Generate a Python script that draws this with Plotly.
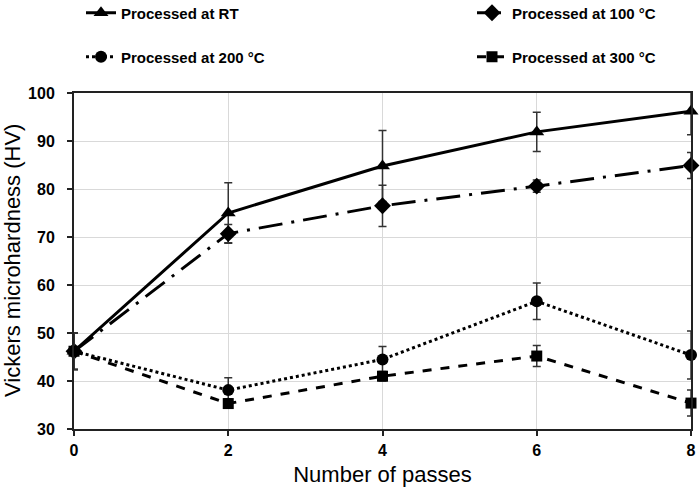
import plotly.graph_objects as go

passes = [0, 2, 4, 6, 8]

rt = [46.2, 75.0, 84.8, 91.9, 96.2]
rt_err = [3.8, 6.3, 7.4, 4.1, 4.9]

t100 = [46.2, 70.7, 76.5, 80.6, 84.9]
t100_err = [3.8, 1.9, 4.3, 1.3, 2.7]

t200 = [46.2, 38.1, 44.5, 56.6, 45.4]
t200_err = [3.8, 2.6, 2.7, 3.8, 5.0]

t300 = [46.2, 35.3, 41.0, 45.2, 35.4]
t300_err = [3.8, 1.0, 1.0, 2.2, 2.7]

names = ["Processed at RT", "Processed at 100 °C",
         "Processed at 200 °C", "Processed at 300 °C"]

FONT = "Liberation Sans, Arial, sans-serif"

# one legend per entry so the 2x2 grid can be placed like the original
series = [
    (rt, rt_err, "solid", "triangle-up", 13, "legend"),
    (t100, t100_err, "24px,9px,3px,9px", "diamond", 13, "legend2"),
    (t200, t200_err, "dot", "circle", 12, "legend3"),
    (t300, t300_err, "dash", "square", 11, "legend4"),
]

fig = go.Figure()
for name, (vals, err, dash, sym, size, leg) in zip(names, series):
    fig.add_trace(go.Scatter(
        x=passes, y=vals, name=name, mode="lines+markers",
        line=dict(color="black", width=3, dash=dash),
        marker=dict(symbol=sym, size=size, color="black"),
        error_y=dict(type="data", array=err, visible=True,
                     color="#333333", thickness=1.5, width=4),
        legend=leg, showlegend=True, cliponaxis=False,
    ))

legend_style = dict(
    xref="container", yref="container",
    xanchor="left", yanchor="middle",
    font=dict(family=FONT, size=15, color="black", weight="bold"),
    bgcolor="rgba(0,0,0,0)",
)

W, H = 700, 494
L, R = 74, 9
col1, col2 = 81 / W, 472 / W
row1, row2 = 1 - 13 / H, 1 - 57 / H

fig.update_layout(
    width=W, height=H,
    showlegend=True,
    margin=dict(l=L, r=R, t=93, b=65, autoexpand=False),
    plot_bgcolor="white", paper_bgcolor="white",
    font=dict(family=FONT, color="black"),
    legend=dict(legend_style, x=col1, y=row1),
    legend2=dict(legend_style, x=col2, y=row1),
    legend3=dict(legend_style, x=col1, y=row2),
    legend4=dict(legend_style, x=col2, y=row2),
    xaxis=dict(
        range=[0, 8], tickvals=[0, 2, 4, 6, 8],
        showgrid=True, gridcolor="#d9d9d9", gridwidth=1,
        showline=True, linecolor="#222222", linewidth=2, mirror=True,
        ticks="outside", ticklen=5, tickcolor="#222222", tickwidth=1.5,
        ticklabelstandoff=1,
        tickfont=dict(family=FONT, size=16, weight="bold"),
        title=dict(text="Number of passes", standoff=8,
                   font=dict(family=FONT, size=22)),
        zeroline=False,
    ),
    yaxis=dict(
        range=[30, 100], dtick=10,
        showgrid=True, gridcolor="#d9d9d9", gridwidth=1,
        showline=True, linecolor="#222222", linewidth=2, mirror=True,
        ticks="outside", ticklen=5, tickcolor="#222222", tickwidth=1.5,
        ticklabelstandoff=9,
        tickfont=dict(family=FONT, size=16, weight="bold"),
        zeroline=False,
    ),
)

# y title as an annotation: the axis title jumps into the plot with fixed margins
fig.add_annotation(
    text="Vickers microhardness (HV)", textangle=-90,
    xref="paper", yref="paper", x=(12 - L) / (W - L - R), y=0.5,
    xanchor="center", yanchor="middle", showarrow=False,
    font=dict(family=FONT, size=22, color="black"),
)

# the page's default body margin would shift the figure by 8px
fig.write_html("out.html", config={"displayModeBar": False},
               post_script="document.body.style.margin='0';")
